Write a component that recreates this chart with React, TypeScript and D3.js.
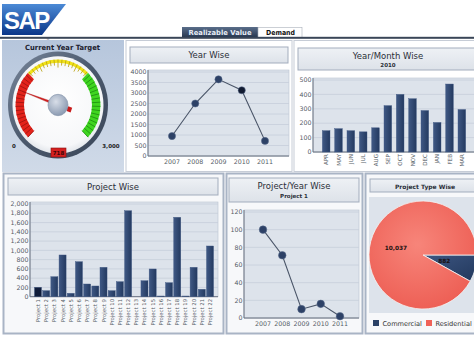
import React from 'react';
import * as d3 from 'd3';

// ---------- DATA ----------
const gaugeMin = 0;
const gaugeMax = 3000;
const gaugeValue = 718;
const gaugeLabels = ['0', '3,000'];
const gaugeValueLabel = '718';

const years = ['2007', '2008', '2009', '2010', '2011'];
const yearWiseValues = [950, 2500, 3650, 3130, 720];

const months = ['APR', 'MAY', 'JUN', 'JUL', 'AUG', 'SEP', 'OCT', 'NOV', 'DEC', 'JAN', 'FEB', 'MAR'];
const monthValues = [148, 162, 148, 140, 168, 322, 400, 370, 288, 205, 472, 295];

const projects = [
  'Project 1', 'Project 2', 'Project 3', 'Project 4', 'Project 5', 'Project 6', 'Project 7', 'Project 8',
  'Project 9', 'Project 10', 'Project 11', 'Project 12', 'Project 13', 'Project 14', 'Project 15', 'Project 16',
  'Project 17', 'Project 18', 'Project 19', 'Project 20', 'Project 21', 'Project 22',
];
const projectValues = [203, 130, 431, 900, 73, 755, 274, 231, 634, 130, 324, 1855, 0, 345, 598, 15, 302, 1713, 15, 634, 160, 1094];

const projectYearValues = [100, 71, 10, 16, 2];

const projectTypes = ['Commercial', 'Residential'];
const projectTypeValues = [882, 10037];
const projectTypeLabels = ['882', '10,037'];

const tabs = ['Realizable Value', 'Demand'];

// ---------- STYLE ----------
const FONT = "'DejaVu Sans', Verdana, sans-serif";
const BAR_SEL = '#0f1c3a';
const PLOT_BG = '#dde3eb';
const GRID = '#c6cedb';
const AXIS = '#6a7280';
const TICK_TXT = '#555c66';

function TitleBox({ x, y, w, h, title, sub, size = 8.5, bold = false, titleY, subY }: any) {
  return (
    <g>
      <rect x={x} y={y} width={w} height={h} fill="url(#titleGrad)" stroke="#a3adbd" strokeWidth={1} />
      <text x={x + w / 2} y={titleY} textAnchor="middle" fontFamily={FONT} fontSize={size}
        fontWeight={bold ? 'bold' : 'normal'} fill="#2a2f38">{title}</text>
      {sub && (
        <text x={x + w / 2} y={subY} textAnchor="middle" fontFamily={FONT} fontSize={5.5}
          fontWeight="bold" fill="#2a2f38">{sub}</text>
      )}
    </g>
  );
}

function PlotBg({ x0, x1, y, ticks, fmt }: any) {
  const [r0, r1] = y.range();
  return (
    <g>
      <rect x={x0} y={r1 - 2} width={x1 - x0} height={r0 - r1 + 2} fill={PLOT_BG} stroke="#b9c2cf" strokeWidth={0.6} />
      {ticks.map((t: number) => (
        <line key={t} x1={x0} x2={x1} y1={y(t)} y2={y(t)} stroke={GRID} strokeWidth={0.8} />
      ))}
      <line x1={x0} x2={x0} y1={r1 - 2} y2={r0} stroke={AXIS} strokeWidth={1} />
      <line x1={x0} x2={x1} y1={r0} y2={r0} stroke={AXIS} strokeWidth={1} />
      {ticks.map((t: number) => (
        <text key={'l' + t} x={x0 - 1.5} y={y(t) + 2.2} textAnchor="end" fontFamily={FONT} fontSize={6.3} fill={TICK_TXT}>
          {fmt(t)}
        </text>
      ))}
    </g>
  );
}

function Gauge() {
  const cx = 58, cy = 105;
  const ang = d3.scaleLinear().domain([gaugeMin, gaugeMax]).range([-135, 135]);
  const rad = (d: number) => (d * Math.PI) / 180;
  const arc = d3.arc<any>();
  const ticks = d3.range(gaugeMin, gaugeMax + 1, 60);
  const zone = (v: number) => (v < 1000 ? 'r' : v <= 2000 ? 'y' : 'g');
  const a = ang(gaugeValue);
  return (
    <g>
      <g transform={`translate(${cx},${cy}) scale(1,1.07)`}>
        <circle r={50} fill="url(#ringGrad)" />
        <circle r={45.5} fill="url(#faceGrad)" />
        <path d={arc({ innerRadius: 34, outerRadius: 42.5, startAngle: rad(-135), endAngle: rad(-45) }) as string} fill="#e3231b" />
        <path d={arc({ innerRadius: 39.5, outerRadius: 42.5, startAngle: rad(-45), endAngle: rad(45) }) as string} fill="#f1e21a" />
        <path d={arc({ innerRadius: 34, outerRadius: 42.5, startAngle: rad(45), endAngle: rad(135) }) as string} fill="#3fd520" />
        {ticks.map((t) => {
          const z = zone(t);
          const r1 = z === 'y' ? (t % 300 === 0 ? 35 : 37) : 34;
          const c = z === 'r' ? '#9c1410' : z === 'y' ? '#b8a210' : '#1d8c10';
          const th = rad(ang(t));
          return (
            <line key={t} x1={Math.sin(th) * r1} y1={-Math.cos(th) * r1} x2={Math.sin(th) * 42.5} y2={-Math.cos(th) * 42.5}
              stroke={c} strokeWidth={0.8} />
          );
        })}
        <g transform={`rotate(${a})`}>
          <polygon points="-1.3,0 0,-38 1.3,0" fill="#d42020" stroke="#a01010" strokeWidth={0.3} />
          <rect x={-0.9} y={0} width={1.8} height={12} fill="#d42020" />
          <rect x={-2.4} y={10} width={4.8} height={4.2} fill="#c81c1c" />
        </g>
        <circle r={10} fill="url(#hubGrad)" stroke="#8090a8" strokeWidth={0.6} />
      </g>
      <rect x={51} y={148} width={15} height={9} fill="#d42020" stroke="#8a1010" strokeWidth={0.6} />
      <text x={58.5} y={155} textAnchor="middle" fontFamily={FONT} fontSize={5.5} fontWeight="bold" fill="#3a0606">{gaugeValueLabel}</text>
      <text x={14} y={148} textAnchor="middle" fontFamily={FONT} fontSize={5.5} fontWeight="bold" fill="#222">{gaugeLabels[0]}</text>
      <text x={111} y={148} textAnchor="middle" fontFamily={FONT} fontSize={5.5} fontWeight="bold" fill="#222">{gaugeLabels[1]}</text>
    </g>
  );
}

function YearWise() {
  const x = d3.scalePoint().domain(years).range([172, 265]);
  const y = d3.scaleLinear().domain([0, 4000]).range([156, 72]);
  const line = d3.line<number>().x((_, i) => x(years[i]) as number).y((d) => y(d));
  return (
    <g>
      <PlotBg x0={148} x1={289} y={y} ticks={y.ticks(8)} fmt={(t: number) => String(t)} />
      <path d={line(yearWiseValues) as string} fill="none" stroke="#4a5568" strokeWidth={1.1} />
      {yearWiseValues.map((v, i) => (
        <circle key={i} cx={x(years[i])} cy={y(v)} r={3.6} fill={i === 3 ? '#111a30' : '#2d4166'} stroke="#5a6c8c" strokeWidth={0.5} />
      ))}
      {years.map((yr) => (
        <text key={yr} x={x(yr)} y={163.5} textAnchor="middle" fontFamily={FONT} fontSize={6.3} fill={TICK_TXT}>{yr}</text>
      ))}
    </g>
  );
}

function YearMonth() {
  const x = d3.scaleBand().domain(months).range([320, 468]).paddingInner(0.38).paddingOuter(0.19);
  const y = d3.scaleLinear().domain([0, 500]).range([152, 80]);
  return (
    <g>
      <PlotBg x0={313} x1={476} y={y} ticks={y.ticks(5)} fmt={(t: number) => String(t)} />
      {monthValues.map((v, i) => (
        <rect key={i} x={x(months[i])} y={y(v)} width={x.bandwidth()} height={y(0) - y(v)} fill="url(#barGrad)" stroke="#3d5580" strokeWidth={0.4} />
      ))}
      {months.map((m) => (
        <text key={m} transform={`translate(${(x(m) as number) + x.bandwidth() / 2 + 2},154) rotate(-90)`} textAnchor="end"
          fontFamily={FONT} fontSize={5.6} fill={TICK_TXT}>{m}</text>
      ))}
    </g>
  );
}

function ProjectWise() {
  const x = d3.scaleBand().domain(projects).range([33.9, 214.1]).paddingInner(0.14).paddingOuter(0.07);
  const y = d3.scaleLinear().domain([0, 2000]).range([296.7, 204]);
  const fmt = d3.format(',');
  return (
    <g>
      <PlotBg x0={30} x1={218} y={y} ticks={y.ticks(10)} fmt={(t: number) => fmt(t)} />
      {projectValues.map((v, i) => (
        <rect key={i} x={x(projects[i])} y={y(v)} width={x.bandwidth()} height={y(0) - y(v)}
          fill={i === 0 ? BAR_SEL : 'url(#barGrad)'} stroke="#3d5580" strokeWidth={0.4} />
      ))}
      {projects.map((p) => (
        <text key={p} transform={`translate(${(x(p) as number) + x.bandwidth() / 2 + 2},299) rotate(-90)`} textAnchor="end"
          fontFamily={FONT} fontSize={5.3} fill={TICK_TXT}>{p}</text>
      ))}
    </g>
  );
}

function ProjectYear() {
  const x = d3.scalePoint().domain(years).range([263, 340]);
  const y = d3.scaleLinear().domain([0, 120]).range([318, 212]);
  const line = d3.line<number>().x((_, i) => x(years[i]) as number).y((d) => y(d));
  return (
    <g>
      <PlotBg x0={244} x1={359} y={y} ticks={y.ticks(6)} fmt={(t: number) => String(t)} />
      <path d={line(projectYearValues) as string} fill="none" stroke="#4a5568" strokeWidth={1.1} />
      {projectYearValues.map((v, i) => (
        <circle key={i} cx={x(years[i])} cy={y(v)} r={3.8} fill="#2d4166" stroke="#5a6c8c" strokeWidth={0.5} />
      ))}
      {years.map((yr) => (
        <text key={yr} x={x(yr)} y={326} textAnchor="middle" fontFamily={FONT} fontSize={6.3} fill={TICK_TXT}>{yr}</text>
      ))}
    </g>
  );
}

function ProjectType() {
  const cx = 423, cy = 255, r = 54;
  const pie = d3.pie<number>().sort(null).startAngle(Math.PI / 2).endAngle(Math.PI / 2 + 2 * Math.PI).value((d) => d);
  const arcs = pie(projectTypeValues);
  const arc = d3.arc<any>().innerRadius(0).outerRadius(r);
  const colors = ['url(#comGrad)', 'url(#resGrad)'];
  const labelR = [22, 28];
  return (
    <g>
      <rect x={369} y={197} width={110} height={116} fill={PLOT_BG} />
      <g transform={`translate(${cx},${cy})`}>
        {arcs.map((a, i) => (
          <path key={i} d={arc(a) as string} fill={colors[i]} stroke="#f4f4f4" strokeWidth={0.8} />
        ))}
        {arcs.map((a, i) => {
          const c = d3.arc<any>().innerRadius(labelR[i]).outerRadius(labelR[i]).centroid(a);
          return (
            <text key={'t' + i} x={c[0]} y={c[1] + 2} textAnchor="middle" fontFamily={FONT} fontSize={5.8} fontWeight="bold" fill="#1a1010">
              {projectTypeLabels[i]}
            </text>
          );
        })}
      </g>
      {projectTypes.map((t, i) => (
        <g key={t} transform={`translate(${i === 0 ? 373 : 426},320)`}>
          <rect width={6} height={6} fill={i === 0 ? '#2b4166' : '#f06258'} />
          <text x={9.5} y={5.7} fontFamily={FONT} fontSize={6.6} fill="#333">{t}</text>
        </g>
      ))}
    </g>
  );
}

export default function App() {
  return (
    <svg width={474} height={338} viewBox="0 0 474 338" style={{ position: 'absolute', left: 0, top: 0, background: '#fff' }}>
      <defs>
        <linearGradient id="sapGrad" x1="0" y1="0" x2="0" y2="1">
          <stop offset="0" stopColor="#4c8ad6" />
          <stop offset="1" stopColor="#0a3688" />
        </linearGradient>
        <linearGradient id="tabGrad" x1="0" y1="0" x2="0" y2="1">
          <stop offset="0" stopColor="#5a6e8a" />
          <stop offset="1" stopColor="#26364f" />
        </linearGradient>
        <linearGradient id="gaugePanel" x1="0" y1="0" x2="0" y2="1">
          <stop offset="0" stopColor="#b6c6dc" />
          <stop offset="1" stopColor="#d0dae8" />
        </linearGradient>
        <linearGradient id="titleGrad" x1="0" y1="0" x2="0" y2="1">
          <stop offset="0" stopColor="#eef1f5" />
          <stop offset="1" stopColor="#dde2e9" />
        </linearGradient>
        <linearGradient id="ringGrad" x1="0" y1="0" x2="1" y2="1">
          <stop offset="0" stopColor="#7a889c" />
          <stop offset="0.5" stopColor="#4a586c" />
          <stop offset="1" stopColor="#3a4658" />
        </linearGradient>
        <radialGradient id="faceGrad" cx="0.5" cy="0.45" r="0.6">
          <stop offset="0" stopColor="#ffffff" />
          <stop offset="0.8" stopColor="#f6f7f9" />
          <stop offset="1" stopColor="#d6dbe2" />
        </radialGradient>
        <radialGradient id="hubGrad" cx="0.4" cy="0.35" r="0.7">
          <stop offset="0" stopColor="#d8dee8" />
          <stop offset="1" stopColor="#8696ae" />
        </radialGradient>
        <linearGradient id="barGrad" x1="0" y1="0" x2="1" y2="0">
          <stop offset="0" stopColor="#3f5884" />
          <stop offset="1" stopColor="#243a60" />
        </linearGradient>
        <radialGradient id="resGrad" cx="0.45" cy="0.4" r="0.7">
          <stop offset="0" stopColor="#f7857a" />
          <stop offset="1" stopColor="#ec5a50" />
        </radialGradient>
        <linearGradient id="comGrad" x1="0" y1="0" x2="1" y2="1">
          <stop offset="0" stopColor="#3d5682" />
          <stop offset="1" stopColor="#22385c" />
        </linearGradient>
      </defs>

      {/* SAP logo */}
      <polygon points="2,4 66,4 42,35 2,35" fill="url(#sapGrad)" />
      <text x={4} y={28.5} fontFamily="'Liberation Sans', Arial, sans-serif" fontWeight="bold" fontSize={24}
        letterSpacing={-1.6} fill="#fff">SAP</text>
      <text x={46} y={39.5} fontFamily={FONT} fontSize={4} fill="#556">®</text>

      {/* tabs */}
      <rect x={182} y={27} width={76} height={10.5} fill="url(#tabGrad)" />
      <text x={220} y={35} textAnchor="middle" fontFamily={FONT} fontSize={7} fontWeight="bold" fill="#e8eef6"
        textLength={63} lengthAdjust="spacingAndGlyphs">{tabs[0]}</text>
      <rect x={258} y={27.5} width={44} height={10} fill="#fff" stroke="#a8afba" strokeWidth={0.6} />
      <text x={280.5} y={35} textAnchor="middle" fontFamily={FONT} fontSize={7} fontWeight="bold" fill="#111"
        textLength={29} lengthAdjust="spacingAndGlyphs">{tabs[1]}</text>
      <rect x={0} y={36.8} width={474} height={2} fill="#3a4658" />

      {/* top panels */}
      <rect x={2} y={40} width={122} height={132} fill="url(#gaugePanel)" />
      <text x={62.5} y={50} textAnchor="middle" fontFamily={FONT} fontSize={7.2} fontWeight="bold" fill="#1c2230"
        textLength={75} lengthAdjust="spacingAndGlyphs">Current Year Target</text>
      <Gauge />

      <rect x={126} y={40.5} width={166} height={131} fill="#fff" stroke="#c6ccd6" strokeWidth={1} />
      <TitleBox x={130} y={47} w={158} h={16} title="Year Wise" size={8.5} titleY={58} />
      <YearWise />

      <rect x={294} y={40.5} width={182} height={131} fill="#fff" stroke="#c6ccd6" strokeWidth={1} />
      <TitleBox x={298} y={48} w={180} h={22} title="Year/Month Wise" sub="2010" size={8.5} titleY={58.5} subY={67} />
      <YearMonth />

      {/* bottom panels */}
      <rect x={3.5} y={173.5} width={220} height={160} fill="#f7f8fa" stroke="#a9b4c5" strokeWidth={2} />
      <TitleBox x={8} y={178} w={210} h={17} title="Project Wise" size={8.5} titleY={189.5} />
      <ProjectWise />

      <rect x={226.5} y={173.5} width={136} height={160} fill="#f7f8fa" stroke="#a9b4c5" strokeWidth={2} />
      <TitleBox x={229} y={178} w={130} h={24} title="Project/Year Wise" sub="Project 1" size={8.5} titleY={189} subY={198} />
      <ProjectYear />

      <rect x={365.5} y={173.5} width={112} height={160} fill="#f7f8fa" stroke="#a9b4c5" strokeWidth={2} />
      <ProjectType />
      <TitleBox x={370} y={179} w={110} h={13} title="Project Type Wise" size={6} bold titleY={188.5} />
    </svg>
  );
}
